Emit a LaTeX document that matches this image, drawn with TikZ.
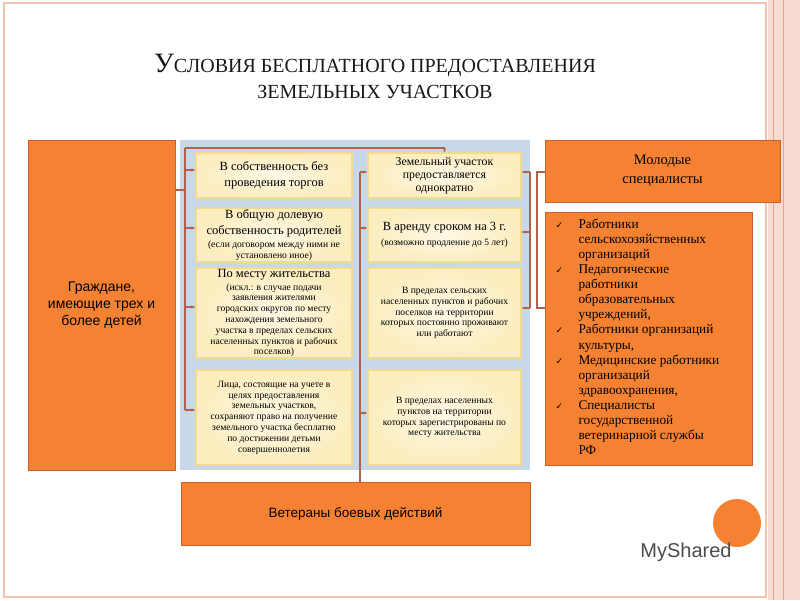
\documentclass[tikz,border=0pt]{standalone}
\usepackage{fontspec}
\setmainfont{Liberation Serif}
\setsansfont{Liberation Sans}
\newfontfamily\symfont{DejaVu Sans}
\usetikzlibrary{arrows.meta,positioning}

\definecolor{orng}{HTML}{F58233}
\definecolor{orngdk}{HTML}{C8602A}
\definecolor{pale}{HTML}{FCEDBE}
\definecolor{paledk}{HTML}{F3DB8E}
\definecolor{panel}{HTML}{C9D7EA}
\definecolor{link}{HTML}{B0624A}
\definecolor{frame}{HTML}{F2C2B0}

\newcommand\tick{{\symfont\fontsize{9}{9}\selectfont ✓}}
\newcommand\bigtext{\fontsize{12.5}{15.5}\selectfont}

\tikzset{
    bigbox/.style = {draw = orngdk, fill = orng, align = center, inner sep = 2pt},
    cellbox/.style = {draw = paledk, line width = 1.2pt, inner color = white!60!pale,
        outer color = pale, minimum width = 156pt, align = center, inner sep = 1pt,
        font = \fontsize{9.6}{10.8}\selectfont},
    linkline/.style = {draw = link, line width = 1.1pt},
    linkarrow/.style = {linkline, -{Stealth[length = 4pt, width = 3pt]}}
}

\begin{document}
\begin{tikzpicture}[x = 1pt, y = -1pt]
    \useasboundingbox (0, 0) rectangle (800, 600);
    \fill[white] (0, 0) rectangle (800, 600);

    % рамка слайда
    \draw[frame, line width = 1.5pt] (4, 3) rectangle (766, 597);
    \fill[frame!60] (768, 0) rectangle (800, 600);
    \draw[frame!150, line width = 0.8pt] (773, 0) -- (773, 600) (783, 0) -- (783, 600);

    \node (title) at (375, 76) [align = center, text = black!90, font = \fontsize{20}{26}\selectfont]
        {{\fontsize{28}{28}\selectfont У}СЛОВИЯ БЕСПЛАТНОГО ПРЕДОСТАВЛЕНИЯ\\
        ЗЕМЕЛЬНЫХ УЧАСТКОВ};

    \fill[panel] (180, 140) rectangle (530, 470);

    \node (parents) [bigbox, minimum width = 147pt, minimum height = 330pt,
        font = \sffamily\fontsize{14}{17}\selectfont] at (101.5, 305)
        {Граждане,\\ имеющие трех и\\ более детей};
    \node (young) [bigbox, minimum width = 235pt, minimum height = 62pt,
        font = \fontsize{14.5}{19}\selectfont] at (662.5, 171) {Молодые\\ специалисты};
    \node (veterans) [bigbox, minimum width = 349pt, minimum height = 63pt,
        font = \sffamily\fontsize{13.5}{15}\selectfont] at (355.5, 513.5)
        {Ветераны боевых действий};
    \node (jobs) [bigbox, minimum width = 207pt, minimum height = 253pt, inner sep = 0pt,
        font = \fontsize{13.3}{15.1}\selectfont] at (648.5, 338.5)
        {\begin{tabular}{@{}p{32pt}@{}p{172pt}@{}}
        \hspace{9pt}\tick & Работники \\ & сельскохозяйственных \\ & организаций \\
        \hspace{9pt}\tick & Педагогические \\ & работники \\ & образовательных \\ & учреждений, \\
        \hspace{9pt}\tick & Работники организаций \\ & культуры, \\
        \hspace{9pt}\tick & Медицинские работники \\ & организаций \\ & здравоохранения, \\
        \hspace{9pt}\tick & Специалисты \\ & государственной \\ & ветеринарной службы \\ & РФ
        \end{tabular}};

    \node (own)    [cellbox, minimum height = 45pt, font = \bigtext] at (274, 175.5)
        {В собственность без\\ проведения торгов};
    \node (share)  [cellbox, minimum height = 54pt] at (274, 235)
        {{\bigtext В общую долевую}\\[3pt] {\bigtext собственность родителей}\\[2pt]
        (если договором между ними не\\ установлено иное)};
    \node (home)   [cellbox, minimum height = 90pt] at (274, 313)
        {{\bigtext По месту жительства}\\[2pt] (искл.: в случае подачи\\ заявления жителями\\
        городских округов по месту\\ нахождения земельного\\ участка в пределах сельских\\
        населенных пунктов и рабочих\\ поселков)};
    \node (queue)  [cellbox, minimum height = 95pt] at (274, 417.5)
        {Лица, состоящие на учете в\\ целях предоставления\\ земельных участков,\\
        сохраняют право на получение\\ земельного участка бесплатно\\ по достижении детьми\\ совершеннолетия};

    \node (once)   [cellbox, minimum width = 153pt, minimum height = 45pt,
        font = \fontsize{11.8}{13.2}\selectfont] at (444.5, 175.5)
        {Земельный участок\\ предоставляется\\ однократно};
    \node (lease)  [cellbox, minimum width = 153pt, minimum height = 54pt] at (444.5, 235)
        {{\fontsize{12.5}{16}\selectfont В аренду сроком на 3 г.}\\[4pt] (возможно продление до 5 лет)};
    \node (rural)  [cellbox, minimum width = 153pt, minimum height = 90pt] at (444.5, 313)
        {В пределах сельских\\ населенных пунктов и рабочих\\ поселков на территории\\
        которых постоянно проживают\\ или работают};
    \node (reg)    [cellbox, minimum width = 153pt, minimum height = 95pt] at (444.5, 417.5)
        {В пределах населенных\\ пунктов на территории\\ которых зарегистрированы по\\ месту жительства};

    % связи
    \coordinate (lbus top) at (185, 148);
    \coordinate (lbus end) at (185, 410);
    \draw[linkline] (parents.east |- 0, 190) -- (185, 190);
    \draw[linkline] (lbus top) -- (lbus end);
    \draw[linkarrow] (lbus top) -| (once.north);
    \foreach \name/\y in {own/170, share/228, home/307, queue/410}
        \draw[linkarrow] (185, \y) -- (\name.west |- 0, \y);

    \draw[linkline] (veterans.north -| 360, 0) -- (360, 172);
    \foreach \name/\y in {once/172, lease/228, reg/413}
        \draw[linkarrow] (360, \y) -- (\name.west |- 0, \y);

    \draw[linkline] (young.west |- 0, 172) -- (537, 172) -- (537, 308) -- (jobs.west |- 0, 308);
    \draw[linkline] (530, 172) -- (530, 308);
    \foreach \name/\y in {once/172, lease/232, rural/308}
        \draw[linkarrow] (530, \y) -- (\name.east |- 0, \y);

    \fill[orng] (737, 523) circle (24);
    \node (logo) at (686, 552) [text = black!70, font = \sffamily\fontsize{20}{20}\selectfont] {MyShared};
\end{tikzpicture}
\end{document}
